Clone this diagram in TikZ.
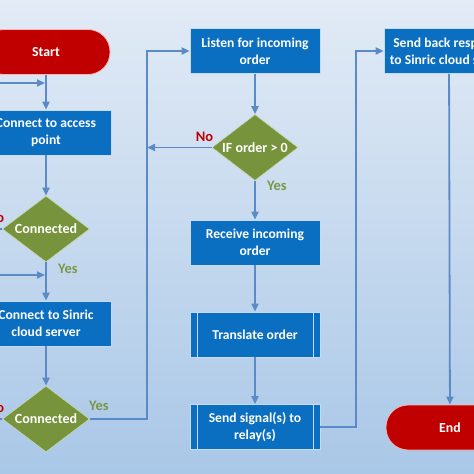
\documentclass[tikz,border=0pt]{standalone}
\usepackage{fontspec}
\setmainfont{Carlito}
\usetikzlibrary{shapes.geometric,arrows.meta}
\definecolor{bgtop}{HTML}{E2EBF6}
\definecolor{bgbot}{HTML}{A9C7E7}
\definecolor{boxblue}{HTML}{0B6FC1}
\definecolor{boxedge}{HTML}{C5DCF0}
\definecolor{termred}{HTML}{C00000}
\definecolor{termedge}{HTML}{F2B8B8}
\definecolor{condgreen}{HTML}{77933C}
\definecolor{condedge}{HTML}{C9D9B0}
\definecolor{linkblue}{HTML}{5A8BC7}
\definecolor{yesgreen}{HTML}{7A9748}
\begin{document}
\begin{tikzpicture}[x=1pt,y=-1pt,
      box/.style={rectangle,draw=boxedge,line width=0.7pt,fill=boxblue,text=white,minimum width=130pt,minimum height=45pt,align=center,
          font=\fontsize{13.6}{17}\selectfont\bfseries},
      proc/.style={box,path picture={\draw[boxedge,line width=0.7pt]
          ([xshift=7pt]path picture bounding box.north west) -- ([xshift=7pt]path picture bounding box.south west)
          ([xshift=-7pt]path picture bounding box.north east) -- ([xshift=-7pt]path picture bounding box.south east);}},
      term/.style={rectangle,draw=termedge,line width=0.8pt,fill=termred,text=white,rounded corners=22pt,minimum width=128pt,minimum height=45pt,
          font=\fontsize{13.8}{17}\selectfont\bfseries},
      cond/.style={diamond,draw=condedge,line width=0.6pt,fill=condgreen,inner sep=0pt,minimum width=86pt,minimum height=66pt,
          label={[text=white,font=\fontsize{14}{17}\selectfont\bfseries]center:#1}},
      arr/.style={-{Triangle[length=8pt,width=7pt]},line width=1.8pt,draw=linkblue},
      lnk/.style={line width=1.8pt,draw=linkblue},
      yes/.style={text=yesgreen,font=\fontsize{14.5}{17}\selectfont\bfseries},
      no/.style={text=termred,font=\fontsize{14.5}{17}\selectfont\bfseries}
    ]
      \useasboundingbox (0,0) rectangle (474,474);
      \clip (0,0) rectangle (474,474);
      \fill[top color=bgtop,bottom color=bgbot] (0,0) rectangle (474,474);

      % left column
      \node[term] (start) at (46,52) {Start};
      \node[box] (cap) at (46,132.5) {Connect to access\\point};
      \node[cond=Connected,minimum width=87pt] (conn1) at (46,229) {};
      \node[box] (csrv) at (46,323.5) {Connect to Sinric\\cloud server};
      \node[cond=Connected,minimum width=87pt] (conn2) at (46,419) {};
      \coordinate (inA) at (-30,83);
      \coordinate (inB) at (-30,275);
      \coordinate (outA) at (-40,229);
      \coordinate (outB) at (-40,419);

      % middle column
      \node[box] (listen) at (255,51) {Listen for incoming\\order};
      \node[cond=IF order > 0] (ifo) at (255,147.5) {};
      \node[box] (recv) at (255,242.5) {Receive incoming\\order};
      \node[proc] (trans) at (255,334.5) {Translate order};
      \node[proc] (sig) at (255,427) {Send signal(s) to\\relay(s)};
      \coordinate (busL) at (147,0);
      \coordinate (busR) at (356,0);

      % right column
      \node[box] (back) at (449,51) {Send back response\\to Sinric cloud server};
      \node[term] (end) at (450,427.5) {End};

      \draw[arr] (start) -- (cap);
      \draw[arr] (inA) -- ([xshift=-1pt]inA -| start.south);
      \draw[arr] (cap) -- (conn1);
      \draw[lnk] (conn1) -- node[pos=0.16,above=2pt,no] {No} (outA);
      \draw[arr] (conn1) -- node[pos=0.17,right=8pt,yes] {Yes} (csrv);
      \draw[arr] (inB) -- ([xshift=-1pt]inB -| start.south);
      \draw[arr] (csrv) -- (conn2);
      \draw[lnk] (conn2) -- node[pos=0.16,above=2pt,no] {No} (outB);
      \draw[arr] (conn2) -- node[pos=0.16,above=4pt,yes] {Yes} (conn2 -| busL) |- (listen);

      \draw[arr] (listen) -- (ifo);
      \draw[arr] (ifo) -- node[pos=0.11,above=2pt,no] {No} (ifo -| busL);
      \draw[arr] (ifo) -- node[pos=0.12,right=8pt,yes] {Yes} (recv);
      \draw[arr] (recv) -- (trans);
      \draw[arr] (trans) -- (sig);
      \draw[arr] (sig) -- (sig -| busR) |- (back);
      \draw[arr] (back) -- (end);
    \end{tikzpicture}
\end{document}
